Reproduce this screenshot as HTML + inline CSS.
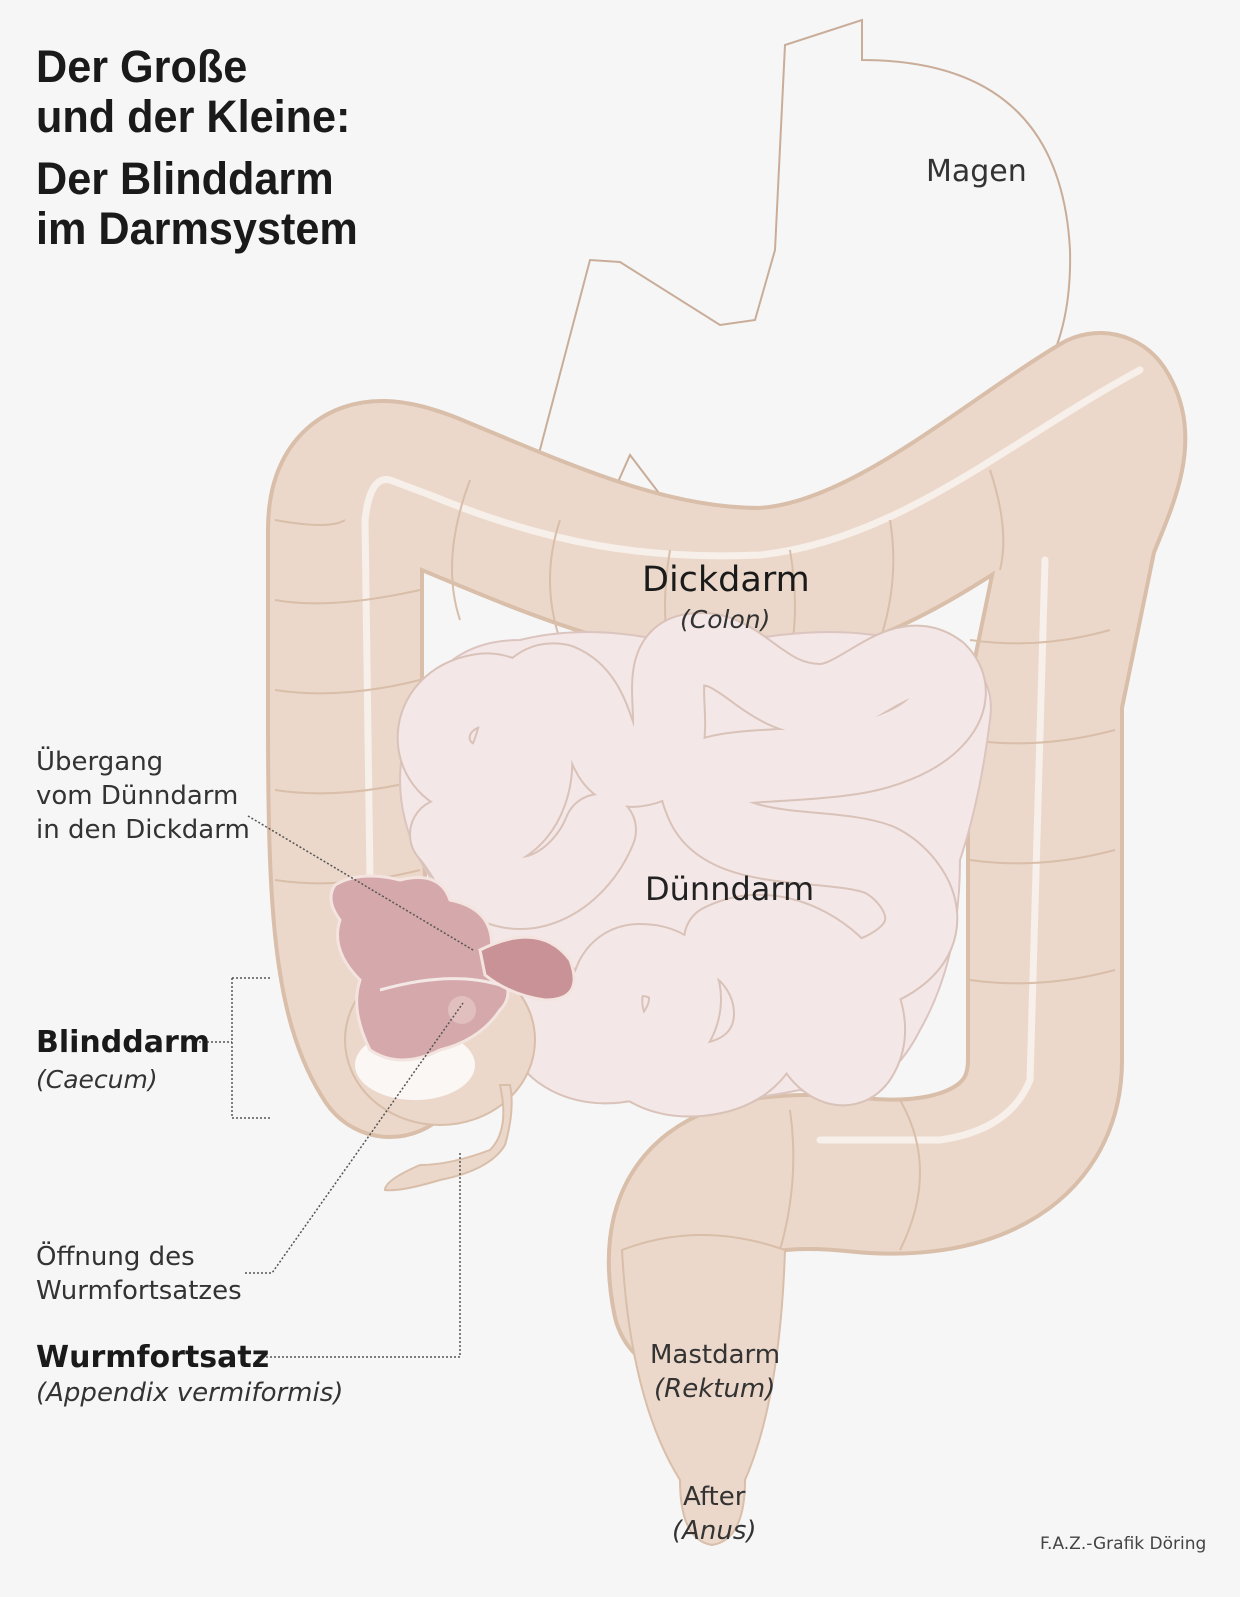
<!DOCTYPE html>
<html><head><meta charset="utf-8"><style>
html,body{margin:0;padding:0;background:#f6f6f6;}
body{width:1240px;height:1597px;position:relative;overflow:hidden;font-family:"DejaVu Sans","Liberation Sans",sans-serif;color:#1a1a1a;}
.t{position:absolute;}
.title{left:36px;font-family:"Liberation Sans Narrow","Liberation Sans",sans-serif;font-weight:bold;font-size:45px;line-height:50px;color:#1a1a1a;transform:scaleX(0.96);transform-origin:left;}
.lbl{font-size:25px;line-height:34px;color:#333;}
.b{font-weight:bold;font-size:30px;color:#1a1a1a;}
.i{font-style:italic;}
</style></head><body>
<svg width="1240" height="1597" style="position:absolute;left:0;top:0">
<path d="M532 480 L590 260 L620 262 L720 325 L755 320 L775 250 L785 45 L862 20 L862 60 Q1060 60 1070 250 Q1072 330 1040 380 M610 500 L630 455 L668 505" fill="none" stroke="#c9ad99" stroke-width="2"/>
<g fill="none" stroke-linecap="round" stroke-linejoin="round">
<path d="M390 1060 C350 1000 345 900 345 720 L345 530 C345 470 380 470 430 490 C550 540 650 585 760 585 C880 580 1000 470 1100 410 C1120 440 1100 480 1080 530 L1045 700 L1045 1060 C1045 1150 960 1185 860 1175 C720 1160 670 1200 690 1300" stroke="#d9bea9" stroke-width="158"/>
<path d="M390 1060 C350 1000 345 900 345 720 L345 530 C345 470 380 470 430 490 C550 540 650 585 760 585 C880 580 1000 470 1100 410 C1120 440 1100 480 1080 530 L1045 700 L1045 1060 C1045 1150 960 1185 860 1175 C720 1160 670 1200 690 1300" stroke="#ebd8ca" stroke-width="150"/>
<path d="M370 880 L365 520 Q370 475 390 480 L430 495 C550 545 650 560 760 555 C900 540 1010 440 1140 370" stroke="#f7efe9" stroke-width="7"/>
<path d="M1045 560 L1030 1080 Q1010 1130 940 1140 L820 1140" stroke="#f7efe9" stroke-width="7"/>
</g>
<g stroke="#d9bea9" stroke-width="2" fill="none">
<path d="M275 520 Q330 530 345 520 M275 600 Q330 610 420 590 M275 690 Q340 700 420 680 M275 790 Q340 800 420 780 M275 880 Q340 890 420 870"/>
<path d="M470 480 Q440 560 460 620 M560 520 Q540 580 560 640 M670 550 Q660 610 670 655 M790 550 Q800 610 790 655 M890 520 Q900 580 880 640 M990 470 Q1010 530 1000 570"/>
<path d="M970 640 Q1040 650 1110 630 M970 740 Q1040 750 1115 730 M970 860 Q1040 870 1115 850 M970 980 Q1040 990 1115 970 M900 1100 Q940 1170 900 1250 M790 1110 Q800 1180 780 1250"/>
</g>
<path d="M622 1250 Q700 1220 785 1250 Q780 1400 745 1480 Q745 1540 712 1545 Q680 1540 680 1480 Q630 1400 622 1250Z" fill="#ebd8ca" stroke="#d9bea9" stroke-width="2"/>
<path d="M420 700 Q450 640 520 640 Q600 620 700 650 Q820 620 900 640 Q1000 650 990 720 Q980 800 960 860 Q960 960 920 1030 Q880 1110 800 1090 Q700 1110 620 1100 Q540 1100 530 1040 Q460 930 420 860 Q380 780 420 700Z" fill="#f4e7e8" stroke="#dcc4bf" stroke-width="2"/>
<g fill="none" stroke-linecap="round" stroke-linejoin="round">
<path d="M545 990 C520 1060 600 1080 640 1060 C700 1030 700 960 640 960 C580 960 600 1090 700 1080 C800 1070 780 960 720 940 C800 900 900 1000 860 1060 C830 1100 760 1000 850 980 C960 950 920 880 880 860 C830 840 720 860 700 800 C680 760 760 770 840 760 C930 750 970 700 940 670 C900 640 860 700 820 700 C760 700 740 640 690 650 C640 660 700 760 640 770 C590 780 610 700 560 680 C500 670 530 790 470 780 C420 770 420 700 480 690 C540 680 560 800 500 830 C440 860 430 800 470 870 C520 920 580 880 600 830" stroke="#d9c2b8" stroke-width="74"/>
<path d="M545 990 C520 1060 600 1080 640 1060 C700 1030 700 960 640 960 C580 960 600 1090 700 1080 C800 1070 780 960 720 940 C800 900 900 1000 860 1060 C830 1100 760 1000 850 980 C960 950 920 880 880 860 C830 840 720 860 700 800 C680 760 760 770 840 760 C930 750 970 700 940 670 C900 640 860 700 820 700 C760 700 740 640 690 650 C640 660 700 760 640 770 C590 780 610 700 560 680 C500 670 530 790 470 780 C420 770 420 700 480 690 C540 680 560 800 500 830 C440 860 430 800 470 870 C520 920 580 880 600 830" stroke="#f4e7e8" stroke-width="70"/>
</g>
<ellipse cx="440" cy="1040" rx="95" ry="85" fill="#ebd8ca" stroke="#d9bea9" stroke-width="2"/>
<ellipse cx="415" cy="1065" rx="60" ry="35" fill="#fbf7f5"/>
<path d="M335 885 Q360 870 400 880 Q440 870 450 900 Q500 910 490 960 Q520 990 500 1010 Q480 1040 440 1050 Q400 1070 370 1050 Q350 1010 360 980 Q330 950 340 920 Q325 900 335 885Z" fill="#d5a9ac" stroke="#f3e4e0" stroke-width="3"/>
<path d="M480 950 Q540 920 570 960 Q585 1000 545 1000 Q510 995 485 975Z" fill="#c99296" stroke="#f3e4e0" stroke-width="3"/>
<circle cx="462" cy="1010" r="14" fill="#e2bfbf"/>
<path d="M380 990 Q450 970 500 985" stroke="#f4e8e6" stroke-width="3" fill="none"/>
<path d="M500 1085 Q510 1130 490 1150 Q450 1165 420 1165 Q385 1180 385 1190 Q400 1192 440 1180 Q490 1170 505 1145 Q515 1110 510 1085Z" fill="#ebd8ca" stroke="#d9bea9" stroke-width="2"/>
<g stroke="#555" stroke-width="1.5" stroke-dasharray="2 2" fill="none">
<path d="M248 816 L473 950"/>
<path d="M195 1042 L232 1042 M232 978 L232 1118 M232 978 L272 978 M232 1118 L272 1118"/>
<path d="M245 1273 L272 1273 L463 1003"/>
<path d="M258 1357 L460 1357 L460 1152"/>
</g>
</svg>
<div class="t title" style="top:42px">Der Große<br>und der Kleine:</div>
<div class="t title" style="top:154px">Der Blinddarm<br>im Darmsystem</div>
<div class="t lbl" style="left:926px;top:155px;font-size:30px">Magen</div>
<div class="t" style="left:642px;top:560px;font-size:35px;color:#1a1a1a">Dickdarm</div>
<div class="t i" style="left:680px;top:605px;font-size:25px;color:#333">(Colon)</div>
<div class="t" style="left:645px;top:870px;font-size:32px;color:#222">Dünndarm</div>
<div class="t lbl" style="left:36px;top:745px;font-size:26px">Übergang<br>vom Dünndarm<br>in den Dickdarm</div>
<div class="t b" style="left:36px;top:1025px">Blinddarm</div>
<div class="t lbl i" style="left:36px;top:1063px">(Caecum)</div>
<div class="t lbl" style="left:36px;top:1240px;font-size:26px">Öffnung des<br>Wurmfortsatzes</div>
<div class="t b" style="left:36px;top:1340px">Wurmfortsatz</div>
<div class="t lbl i" style="left:36px;top:1376px;font-size:26px">(Appendix vermiformis)</div>
<div class="t lbl" style="left:650px;top:1338px;font-size:26px">Mastdarm</div>
<div class="t lbl i" style="left:654px;top:1372px;font-size:26px">(Rektum)</div>
<div class="t lbl" style="left:683px;top:1480px;font-size:26px">After</div>
<div class="t lbl i" style="left:672px;top:1514px;font-size:26px">(Anus)</div>
<div class="t" style="left:1040px;top:1534px;font-size:17px;color:#444">F.A.Z.-Grafik Döring</div>
</body></html>
